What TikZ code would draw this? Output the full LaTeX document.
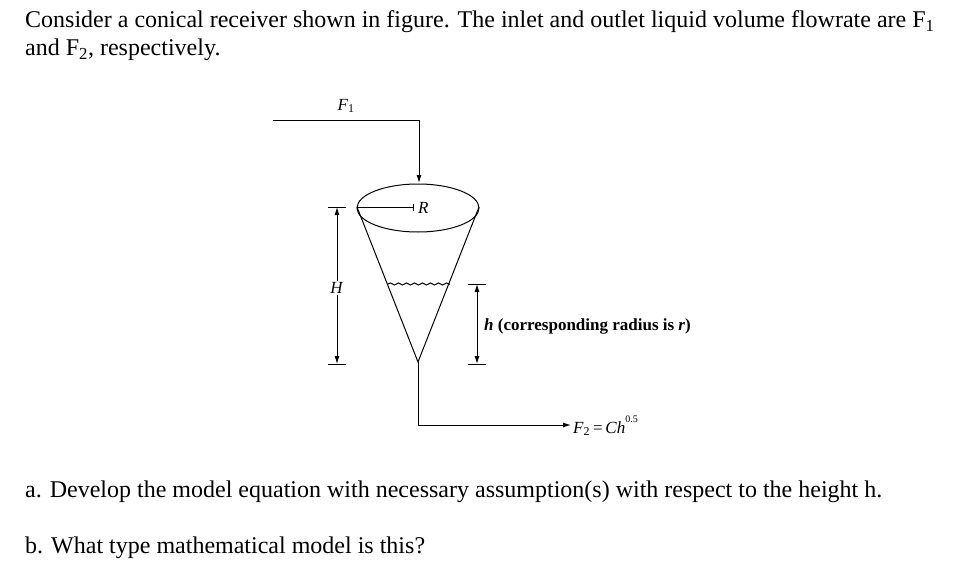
\documentclass[tikz,border=0pt]{standalone}
\usepackage{fontspec}
\setmainfont{Liberation Serif}
\usetikzlibrary{arrows.meta,decorations.pathmorphing,shapes.geometric}
\begin{document}
\begin{tikzpicture}[x=1pt,y=-1pt,
  body/.style={font=\fontsize{24}{28}\selectfont,anchor=west,inner sep=0},
  lab/.style={font=\fontsize{17}{20}\selectfont,inner sep=0},
  ln/.style={line width=1pt},
  arr/.style={ln,-{Latex[length=8pt,width=5pt]}},
  dim/.style={ln,{Latex[length=8pt,width=5pt]}-{Latex[length=8pt,width=5pt]}}]
\useasboundingbox (0,0) rectangle (954,586);
\node[body] (t1) at (25,22) {Consider a conical receiver shown in figure. The inlet and outlet liquid volume flowrate are F\textsubscript{1}};
\node[body] (t2) at (25,50) {and F\textsubscript{2}, respectively.};
\node[body] (qa) at (25,492) {a. Develop the model equation with necessary assumption(s) with respect to the height h.};
\node[body] (qb) at (25,548) {b. What type mathematical model is this?};
% inlet
\coordinate (in0) at (273,120);
\coordinate (in1) at (419,120);
\coordinate (top) at (419,183);
\draw[arr] (in0) -- (in1) -- (top);
\node[lab] (F1) at (346,106) {\textit{F}\textsubscript{1}};
% cone
\coordinate (L) at (357,207);
\coordinate (Rr) at (479,207);
\coordinate (apex) at (418,362);
\node[ln,draw,ellipse,minimum width=122pt,minimum height=48pt,inner sep=0] (rim) at (418,208) {};
\draw[ln] (L) -- (apex) -- (Rr);
\draw[ln,decorate,decoration={snake,amplitude=1pt,segment length=8pt}] (388,284) -- (450,284);
\coordinate (Rend) at (414,207);
\draw[ln,-{Bar[width=7pt]}] (L) -- (Rend);
\node[lab,anchor=west] (Rlab) at (418,208) {\textit{R}};
% H dimension
\coordinate (Ht) at (337,207); \coordinate (Hb) at (337,364);
\draw[ln] (328,207) -- (346,207); \draw[ln] (328,364) -- (346,364);
\draw[dim] (Ht) -- (Hb);
\node[lab,fill=white,inner sep=1pt] (Hlab) at (337,288) {\textit{H}};
% h dimension
\coordinate (ht) at (477,284); \coordinate (hb) at (477,364);
\draw[ln] (468,284) -- (486,284); \draw[ln] (468,364) -- (486,364);
\draw[dim] (ht) -- (hb);
\node[lab,anchor=west] (hlab) at (484,326) {\textbf{\textit{h}} \textbf{(corresponding radius is \textit{r})}};
% outlet
\coordinate (o1) at (418,425);
\coordinate (o2) at (571,425);
\draw[arr] (apex) -- (o1) -- (o2);
\node[lab,anchor=west] (F2) at (573,426) {\textit{F}\textsubscript{2}\,=\,\textit{Ch}\raisebox{1.3ex}{\fontsize{10}{12}\selectfont 0.5}};
\end{tikzpicture}
\end{document}
